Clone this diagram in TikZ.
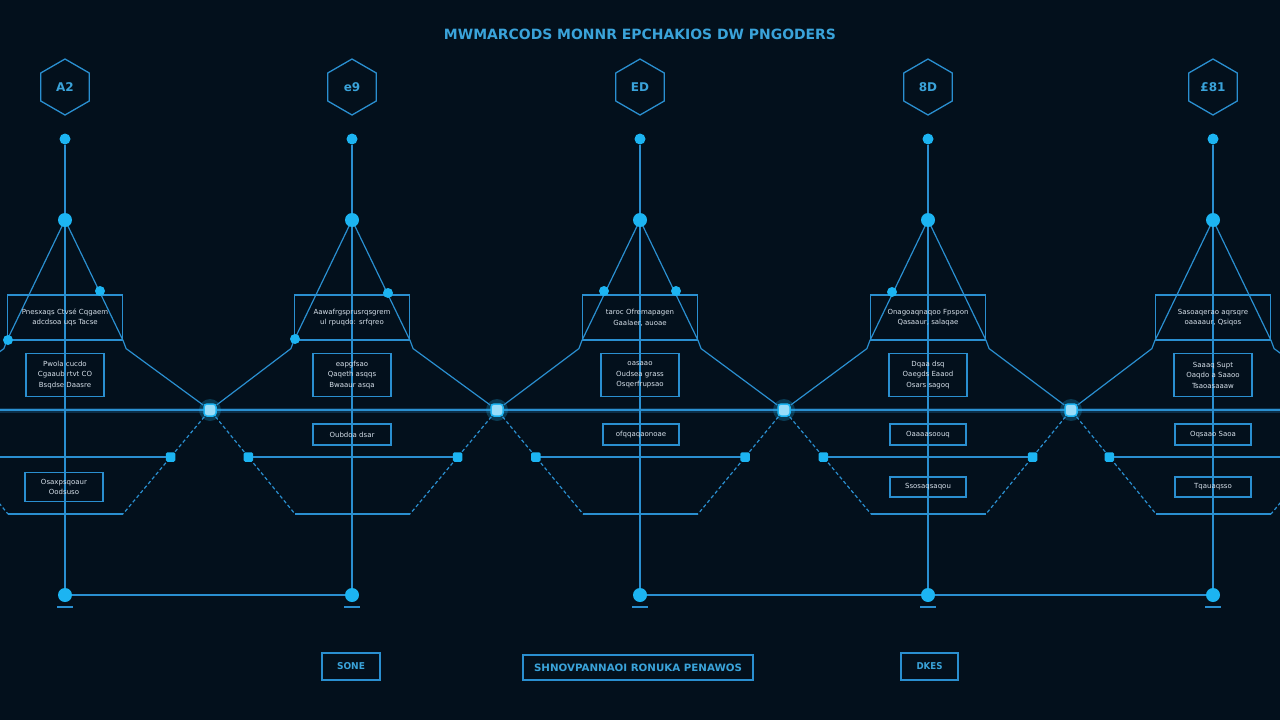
\documentclass[tikz,border=0pt]{standalone}
\usepackage{fontspec}
\setmainfont{DejaVu Sans}
\usetikzlibrary{shapes.geometric,calc}
\definecolor{bg}{HTML}{03101C}
\definecolor{ln}{HTML}{2A8FD0}
\definecolor{dt}{HTML}{1CB4F2}
\definecolor{tx}{HTML}{D6E0EA}
\definecolor{tt}{HTML}{3AA3DA}
\pgfdeclarelayer{bgl}
\pgfsetlayers{bgl,main}
\tikzset{
  wire/.style={draw=ln, line width=1.2pt},
  dwire/.style={draw=ln, line width=1.2pt, dash pattern=on 3.5pt off 2.5pt},
  glowline/.style={draw=ln, line width=5pt, opacity=0.25},
  hexa/.style={regular polygon, regular polygon sides=6, shape border rotate=30,
    minimum size=56pt, draw=ln, line width=1.3pt, text=tt,
    font=\fontsize{12}{12}\selectfont\bfseries, inner sep=0pt},
  dotS/.style={circle, fill=dt, minimum size=10pt, inner sep=0pt},
  dotL/.style={circle, fill=dt, minimum size=14pt, inner sep=0pt},
  sq/.style={rectangle, rounded corners=1.5pt, fill=dt, minimum size=9.5pt, inner sep=0pt},
  xnode/.style={rectangle, rounded corners=3pt, fill=dt!45!white, draw=dt, line width=1.5pt,
    minimum size=12pt, inner sep=0pt},
  tbox/.style={rectangle, draw=ln, line width=1.2pt, text=tx,
    font=\fontsize{7}{10.5}\selectfont, align=center, inner sep=0pt},
  bbox/.style={rectangle, draw=ln, line width=1.4pt, text=tt, inner sep=0pt},
}
\begin{document}
\begin{tikzpicture}[x=1pt,y=-1pt]
\useasboundingbox (0,0) rectangle (1280,720);
\begin{pgfonlayer}{bgl}
  \fill[bg] (0,0) rectangle (1280,720);
\end{pgfonlayer}
\clip (0,0) rectangle (1280,720);

% title
\node (title) at (640,34) {\color{tt}\resizebox{392pt}{10.5pt}{\bfseries MWMARCODS MONNR EPCHAKIOS DW PNGODERS}};

% crossing nodes
\coordinate (X0) at (-77,410);
\node[xnode] (X1) at (210,410) {};
\node[xnode] (X2) at (497,410) {};
\node[xnode] (X3) at (784,410) {};
\node[xnode] (X4) at (1071,410) {};
\coordinate (X5) at (1357,410);
\coordinate (hl) at (0,410);
\coordinate (hr) at (1280,410);

\begin{pgfonlayer}{bgl}
  \draw[glowline] (hl) -- (hr);
  \draw[wire, line width=1.5pt] (hl) -- (hr);
  \foreach \k in {1,2,3,4} { \fill[dt, opacity=0.25] (X\k) circle (11pt); }
\end{pgfonlayer}

\foreach \i/\x/\lab/\ta/\tb in {
  1/65/A2/{Pnesxaqs Ctvs\'e Cqgaem\\adcdsoa uqs Tacse}/{Pwola cucdo\\Cgaaub rtvt CO\\Bsqdse Daasre},
  2/352/e9/{Aawafrgsprusrqsgrem\\ul rpuqdo: srfqreo}/{eapgfsao\\Qaqeth asqqs\\Bwaaur asqa},
  3/640/ED/{taroc Ofremapagen\\Gaalaer, auoae}/{oasaao\\Oudsea grass\\Osqerfrupsao},
  4/928/8D/{Onagoaqnaqoo Fpspon\\Qasaaur, salaqae}/{Dqaa dsq\\Oaegds Eaaod\\Osars sagoq},
  5/1213/£81/{Sasoaqerao aqrsqre\\oaaaaur, Qsiqos}/{Saaaq Supt\\Oaqdo a Saaoo\\Tsaoasaaaw}} {
  \pgfmathtruncatemacro\j{\i-1}
  \node[hexa] (h\i) at (\x,87) {\lab};
  \node[dotS, minimum size=11pt] (t\i) at (\x,139) {};
  \node[dotL] (a\i) at (\x,220) {};
  \node[tbox, minimum width=115pt, minimum height=45pt] (ba\i) at (\x,317.5) {\ta};
  \node[tbox, minimum width=78pt, minimum height=43pt] (bb\i) at (\x,375) {\tb};
  \node[dotL] (d\i) at (\x,595) {};
  \coordinate (bl\i) at (\x-57,514);
  \coordinate (br\i) at (\x+58,514);
  \coordinate (kl\i) at (\x-8,607);
  \coordinate (kr\i) at (\x+8,607);
  \node[sq] (ql\i) at ($(X\j)!0.452!(bl\i)$) {};
  \node[sq] (qr\i) at ($(X\i)!0.452!(br\i)$) {};
  \begin{pgfonlayer}{bgl}
    \draw[wire] (t\i) -- (a\i);
    \draw[wire] (a\i.center) -- (d\i.center);
    \draw[wire] (a\i.center) -- (ba\i.south west) -- ++(-3,8) -- (X\j);
    \draw[wire] (a\i.center) -- (ba\i.south east) -- ++(3,8) -- (X\i);
    \draw[wire] (bl\i) -- (br\i);
    \draw[dwire] (X\j) -- (bl\i);
    \draw[dwire] (X\i) -- (br\i);
    \draw[wire] (ql\i.center) -- (qr\i.center);
    \draw[wire] (kl\i) -- (kr\i);
  \end{pgfonlayer}
}

% extra boxes
\node[tbox, minimum width=78pt, minimum height=29pt] (bc1) at (64,487) {Osaxpsqoaur\\Oodsuso};
\node[tbox, minimum width=78pt, minimum height=21pt] (bc2) at (352,434.5) {Oubdoa dsar};
\node[tbox, minimum width=76pt, minimum height=21pt] (bc3) at (641,434.5) {ofqqaqaonoae};
\node[tbox, minimum width=76pt, minimum height=21pt] (bc4) at (928,434.5) {Oaaaasoouq};
\node[tbox, minimum width=76pt, minimum height=21pt] (bc5) at (1213,434.5) {Oqsaao Saoa};
\node[tbox, minimum width=76pt, minimum height=20pt] (bd4) at (928,487) {Ssosaqsaqou};
\node[tbox, minimum width=76pt, minimum height=20pt] (bd5) at (1213,487) {Tqauaqsso};

% dots on the triangle sides
\node[dotS] (p1) at (100,291) {};
\node[dotS] (p2) at (8,340) {};
\node[dotS] (p3) at (295,339) {};
\node[dotS] (p4) at (388,293) {};
\node[dotS] (p5) at (604,291) {};
\node[dotS] (p6) at (676,291) {};
\node[dotS] (p7) at (892,292) {};

% bottom rail
\begin{pgfonlayer}{bgl}
  \draw[wire] (d1) -- (d2);
  \draw[wire] (d3) -- (d4) -- (d5);
\end{pgfonlayer}

% bottom labels
\node[bbox, minimum width=58pt, minimum height=27pt] (s1) at (351,666.5) {\resizebox{28pt}{7pt}{\bfseries SONE}};
\node[bbox, minimum width=230pt, minimum height=25pt] (s2) at (638,667.5) {\resizebox{208pt}{7.5pt}{\bfseries SHNOVPANNAOI RONUKA PENAWOS}};
\node[bbox, minimum width=57pt, minimum height=27pt] (s3) at (929.5,666.5) {\resizebox{26pt}{7pt}{\bfseries DKES}};
\end{tikzpicture}
\end{document}
